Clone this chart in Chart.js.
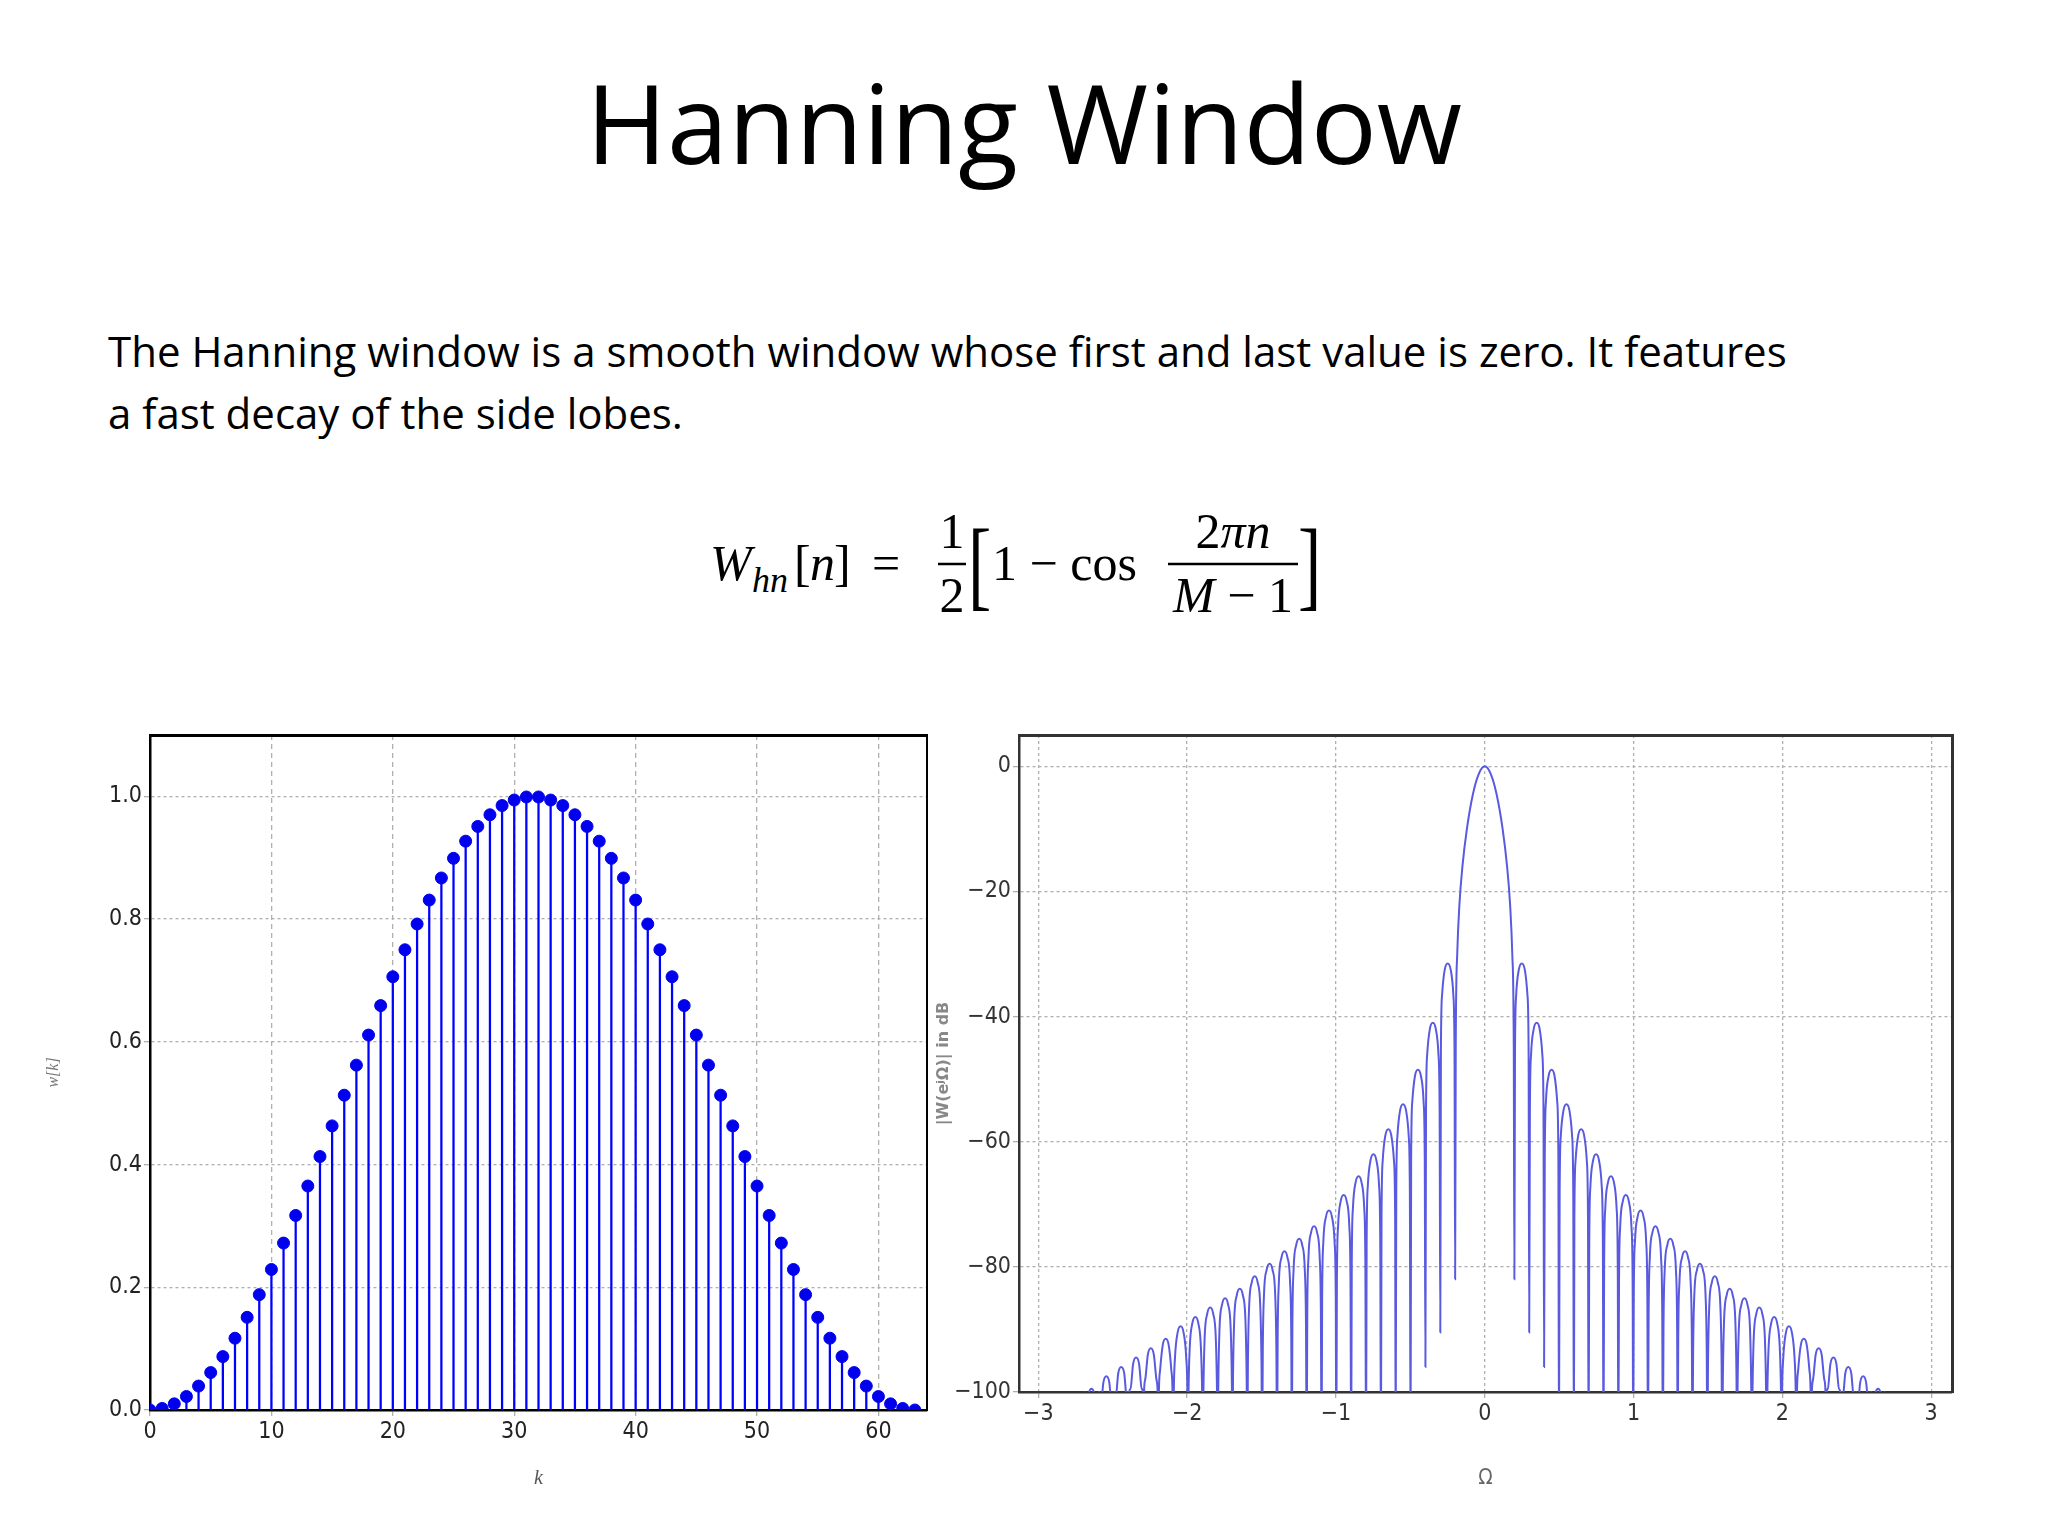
<!DOCTYPE html>
<html lang="en">
<head>
<meta charset="UTF-8">
<title>Hanning Window</title>
<style>
  body { margin: 0; width: 2048px; height: 1536px; background: #fff; position: relative; overflow: hidden;
         font-family: 'Open Sans', 'Noto Sans', sans-serif; }
  h1 { position: absolute; top: 46px; left: 0; width: 2048px; text-align: center; margin: 0;
       font-weight: 400; font-size: 110px; color: #000; }
  .txt { position: absolute; left: 108px; top: 320px; width: 1900px; font-size: 42px; line-height: 62px; margin: 0; }
  .formula { position: absolute; left: 700px; top: 492px; }
  .wrap { position: absolute; }
  #w1 { left: 40px; top: 715px; width: 895px; height: 780px; }
  #w2 { left: 930px; top: 715px; width: 1033px; height: 780px; }
</style>
<script src="https://cdn.jsdelivr.net/npm/chart.js"></script>
</head>
<body>
<h1>Hanning Window</h1>
<p class="txt">The Hanning window is a smooth window whose first and last value is zero. It features<br>a fast decay of the side lobes.</p>
<div class="formula">
  <svg width="640" height="150" style="overflow:visible">
    <g font-family="Liberation Serif, serif" font-size="50">
      <text x="10" y="88" font-style="italic">W</text>
      <text x="52" y="100" font-style="italic" font-size="36">hn</text>
      <text x="94" y="88">[</text><text x="110" y="88" font-style="italic">n</text><text x="134" y="88">]</text>
      <text x="172" y="88">=</text>
      <text x="252" y="56" text-anchor="middle">1</text>
      <line x1="238" y1="72" x2="266" y2="72" stroke="#000" stroke-width="2.5"/>
      <text x="252" y="120" text-anchor="middle">2</text>
      <text x="268" y="106" font-size="100" transform="scale(0.7,1)" transform-origin="268 0">[</text>
      <text x="292" y="88">1 − cos</text>
      <text x="533" y="56" text-anchor="middle">2<tspan font-style="italic">πn</tspan></text>
      <line x1="468" y1="72" x2="598" y2="72" stroke="#000" stroke-width="2.5"/>
      <text x="533" y="120" text-anchor="middle"><tspan font-style="italic">M</tspan> − 1</text>
      <text x="598" y="106" font-size="100" transform="scale(0.7,1)" transform-origin="598 0">]</text>
    </g>
  </svg>
</div>
<div class="wrap" id="w1"><canvas id="c1"></canvas></div>
<div class="wrap" id="w2"><canvas id="c2"></canvas></div>
<script>
  // left: window samples k = 0..63
  const kValues = Array.from({ length: 64 }, (_, i) => i);
  const wValues = [
    0.000, 0.0025, 0.010, 0.022, 0.039, 0.061, 0.087, 0.117, 0.151, 0.188, 0.229, 0.272, 0.317, 0.365, 0.413, 0.463,
    0.513, 0.562, 0.611, 0.659, 0.706, 0.750, 0.792, 0.831, 0.867, 0.899, 0.927, 0.951, 0.970, 0.985, 0.994, 0.999,
    0.999, 0.994, 0.985, 0.970, 0.951, 0.927, 0.899, 0.867, 0.831, 0.792, 0.750, 0.706, 0.659, 0.611, 0.562, 0.513,
    0.463, 0.413, 0.365, 0.317, 0.272, 0.229, 0.188, 0.151, 0.117, 0.087, 0.061, 0.039, 0.022, 0.010, 0.0025, 0.000
  ];
  const leftXTicks = [0, 10, 20, 30, 40, 50, 60];
  const leftYTicks = [0, 0.2, 0.4, 0.6, 0.8, 1.0];

  // right: magnitude response (positive side, mirrored)
  const mainLobeW = [0, 0.04, 0.08, 0.12, 0.15, 0.17, 0.185, 0.195, 0.199];
  const mainLobeDb = [0, -1.2, -4.5, -10, -16, -22, -30, -45, -82];
  const lobeCenters = [0.249, 0.349, 0.449, 0.549, 0.648, 0.748, 0.848, 0.948, 1.047, 1.147, 1.247, 1.346, 1.446,
    1.546, 1.646, 1.745, 1.845, 1.945, 2.044, 2.144, 2.244, 2.343, 2.443, 2.543, 2.643];
  const lobePeaks = [-31.5, -41, -48.5, -54, -58, -62, -65.5, -68.5, -71, -73.5, -75.5, -77.5, -79.5,
    -81.5, -83.5, -85, -86.5, -88, -89.5, -91.5, -93, -94.5, -96, -97.5, -99.5];
  const nullDepths = [-82, -90.5, -96, -110, -110, -110, -110, -110, -110, -110, -110, -110, -110,
    -110, -110, -110, -110, -110, -110, -110, -110, -110, -110, -110, -110, -110];
  const rightXTicks = [-3, -2, -1, 0, 1, 2, 3];
  const rightYTicks = [0, -20, -40, -60, -80, -100];

  function buildResponse() {
    const pos = mainLobeW.map((w, i) => ({ x: w, y: mainLobeDb[i] }));
    const half = 0.0497;
    lobeCenters.forEach((c, i) => {
      const p = lobePeaks[i];
      const n0 = c - half, n1 = c + half;
      pos.push({ x: n0 + 0.004, y: Math.max(p - 14, nullDepths[i] + 10) });
      pos.push({ x: n0 + 0.012, y: p - 5 });
      pos.push({ x: c - 0.02, y: p - 1 });
      pos.push({ x: c, y: p });
      pos.push({ x: c + 0.02, y: p - 1 });
      pos.push({ x: n1 - 0.012, y: p - 5 });
      pos.push({ x: n1 - 0.004, y: Math.max(p - 14, nullDepths[i + 1] + 10) });
      pos.push({ x: n1, y: nullDepths[i + 1] });
    });
    const neg = pos.slice(1).map(p => ({ x: -p.x, y: p.y })).reverse();
    return neg.concat(pos);
  }

  const gridStyle = { color: '#b0b0b0', lineWidth: 1.3, tickLength: 6, drawTicks: true, offset: false };
  function fixW(w) { return s => { s.width = w; }; }
  function fixH(h) { return s => { s.height = h; }; }
  const narrow = "'Liberation Sans Narrow', 'DejaVu Sans Condensed', sans-serif";
  const minus = v => String(v).replace('-', '−');

  new Chart(document.getElementById('c1'), {
    data: {
      datasets: [
        { type: 'bar', data: kValues.map((k, i) => ({ x: k, y: wValues[i] })), backgroundColor: '#0000ff',
          barThickness: 1.6, order: 2 },
        { type: 'scatter', data: kValues.map((k, i) => ({ x: k, y: wValues[i] })), backgroundColor: '#0000ee',
          borderColor: '#0000ee', pointRadius: 6, order: 1 }
      ]
    },
    options: {
      responsive: true, maintainAspectRatio: false, animation: false,
      layout: { padding: { top: 20, right: 8 } },
      plugins: { legend: { display: false }, tooltip: { enabled: false } },
      scales: {
        x: { type: 'linear', offset: false, min: 0, max: 64, afterFit: fixH(85),
          afterBuildTicks: s => { s.ticks = leftXTicks.map(v => ({ value: v })); },
          grid: { ...gridStyle }, border: { color: '#000', width: 2.5, dash: [5, 4] },
          ticks: { color: '#222', padding: 2, font: { family: narrow, size: 23 } },
          title: { display: true, text: 'k', color: '#555', padding: { top: 14 }, font: { family: 'Liberation Serif', style: 'italic', size: 20 } } },
        y: { min: 0, max: 1.1, afterFit: fixW(110),
          afterBuildTicks: s => { s.ticks = leftYTicks.map(v => ({ value: v })); },
          grid: { ...gridStyle }, border: { color: '#000', width: 2.5, dash: [3, 3] },
          ticks: { color: '#222', padding: 2, font: { family: narrow, size: 23 }, callback: v => v.toFixed(1) },
          title: { display: true, text: 'w[k]', color: '#777', padding: { bottom: 24 }, font: { family: 'Liberation Serif', style: 'italic', size: 16 } } },
        x2: { position: 'top', min: 0, max: 1, afterFit: fixH(0), grid: { display: false }, ticks: { display: false },
          border: { color: '#000', width: 3 } },
        y2: { position: 'right', min: 0, max: 1, afterFit: fixW(0), grid: { display: false }, ticks: { display: false },
          border: { color: '#000', width: 2 } }
      }
    }
  });

  new Chart(document.getElementById('c2'), {
    type: 'line',
    data: {
      datasets: [{ data: buildResponse(), borderColor: '#5a5ae0', borderWidth: 2, pointRadius: 0,
        cubicInterpolationMode: 'monotone', fill: false }]
    },
    options: {
      responsive: true, maintainAspectRatio: false, animation: false,
      layout: { padding: { top: 20, right: 11 } },
      plugins: { legend: { display: false }, tooltip: { enabled: false } },
      scales: {
        x: { type: 'linear', min: -3.13, max: 3.14, afterFit: fixH(103),
          afterBuildTicks: s => { s.ticks = rightXTicks.map(v => ({ value: v })); },
          grid: { ...gridStyle }, border: { color: '#333', width: 2.5, dash: [3, 3] },
          ticks: { color: '#333', padding: 2, font: { family: narrow, size: 23 }, callback: minus },
          title: { display: true, text: 'Ω', color: '#666', padding: { top: 6 }, font: { family: narrow, size: 21 } } },
        y: { min: -100, max: 5, afterFit: fixW(89),
          afterBuildTicks: s => { s.ticks = rightYTicks.map(v => ({ value: v })); },
          grid: { ...gridStyle }, border: { color: '#333', width: 2.5, dash: [3, 3] },
          ticks: { color: '#333', padding: 2, font: { family: narrow, size: 23 }, callback: minus },
          title: { display: true, text: '|W(eʲΩ)| in dB', color: '#888', padding: { bottom: 8 }, font: { family: 'DejaVu Sans', weight: 'bold', size: 16 } } },
        x2: { position: 'top', min: 0, max: 1, afterFit: fixH(0), grid: { display: false }, ticks: { display: false },
          border: { color: '#333', width: 3 } },
        y2: { position: 'right', min: 0, max: 1, afterFit: fixW(0), grid: { display: false }, ticks: { display: false },
          border: { color: '#333', width: 3 } }
      }
    },
    plugins: [{ id: 'clip', beforeDatasetsDraw: c => { const a = c.chartArea; c.ctx.save(); c.ctx.beginPath();
      c.ctx.rect(a.left, a.top, a.right - a.left, a.bottom - a.top); c.ctx.clip(); },
      afterDatasetsDraw: c => c.ctx.restore() }]
  });
</script>
</body>
</html>
